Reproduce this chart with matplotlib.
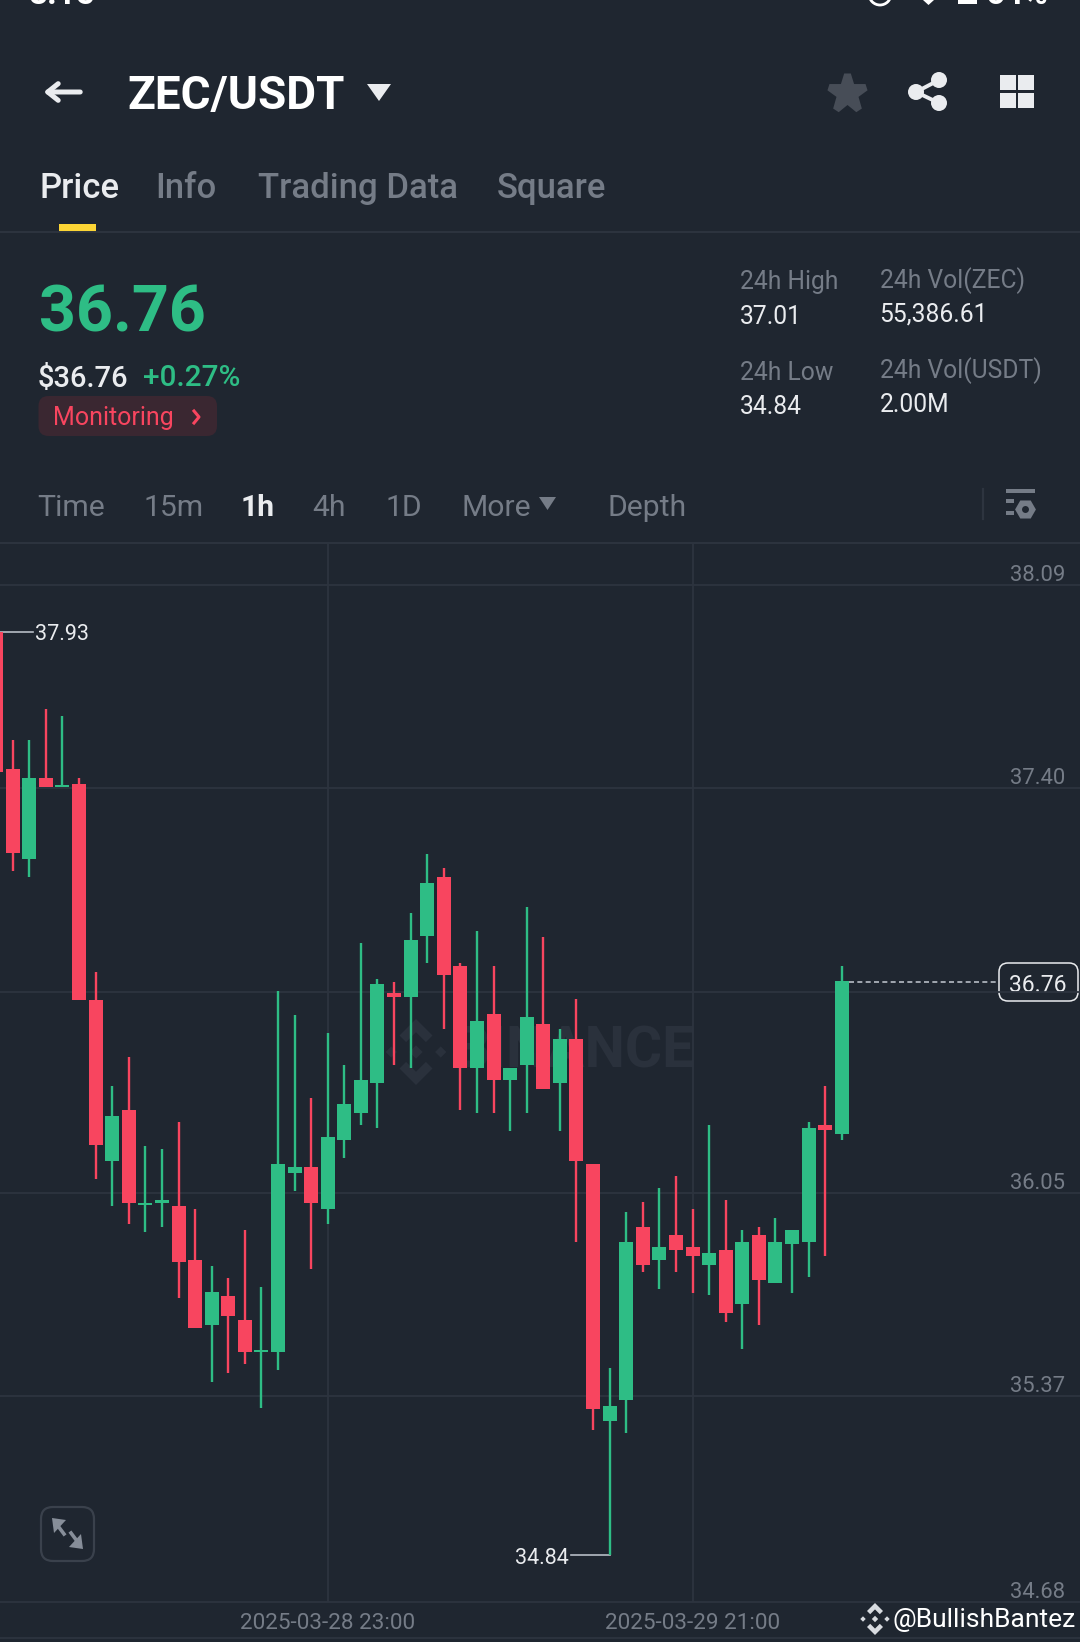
import matplotlib
matplotlib.use('Agg')
import matplotlib.pyplot as plt
from matplotlib.patches import FancyBboxPatch, Polygon, Rectangle, Circle

plt.rcParams['font.family'] = ['Roboto', 'DejaVu Sans']

BG = '#1f2630'
GRID = '#2d343f'
GREEN = '#2ebd85'
RED = '#f8455f'
GRAY = '#757c87'
LIGHT = '#eaecef'

# candle values. index -1 is the cut off candle on the left edge
candle_x = list(range(-1, 51))
highs = [37.934, 37.571, 37.571, 37.673, 37.652, 37.443, 36.791, 36.409, 36.509, 36.209,
         36.198, 36.290, 35.998, 35.807, 35.767, 35.928, 35.737, 36.730, 36.649, 36.370,
         36.589, 36.479, 36.889, 36.768, 36.760, 36.989, 37.189, 37.141, 36.821, 36.930,
         36.811, 36.470, 37.011, 36.910, 36.600, 36.701, 36.148, 35.465, 35.989, 36.020,
         36.068, 36.109, 35.999, 36.280, 36.029, 35.929, 35.938, 35.969, 35.929, 36.289,
         36.410, 36.811]
tops = [37.934, 37.473, 37.443, 37.443, 37.421, 37.422, 36.700, 36.309, 36.330, 36.018,
        36.027, 36.009, 35.828, 35.718, 35.707, 35.627, 35.525, 36.149, 36.139, 36.139,
        36.239, 36.349, 36.430, 36.751, 36.721, 36.900, 37.091, 37.110, 36.811, 36.629,
        36.650, 36.470, 36.641, 36.619, 36.569, 36.569, 36.148, 35.337, 35.888, 35.938,
        35.869, 35.909, 35.869, 35.849, 35.859, 35.888, 35.909, 35.888, 35.929, 36.270,
        36.280, 36.761]
bottoms = [37.463, 37.191, 37.172, 37.412, 37.414, 36.700, 36.211, 36.160, 36.019, 36.011,
           36.019, 35.820, 35.599, 35.609, 35.639, 35.518, 35.518, 35.518, 36.119, 36.019,
           35.998, 36.228, 36.319, 36.419, 36.710, 36.710, 36.912, 36.782, 36.470, 36.470,
           36.431, 36.431, 36.481, 36.400, 36.420, 36.159, 35.327, 35.288, 35.358, 35.810,
           35.828, 35.859, 35.839, 35.810, 35.649, 35.678, 35.760, 35.750, 35.880, 35.888,
           36.262, 36.249]
lows = [37.463, 37.131, 37.110, 37.412, 37.414, 36.700, 36.098, 36.009, 35.949, 35.920,
        35.939, 35.699, 35.599, 35.418, 35.448, 35.478, 35.329, 35.458, 36.058, 35.798,
        35.949, 36.169, 36.279, 36.269, 36.481, 36.470, 36.821, 36.602, 36.330, 36.319,
        36.319, 36.259, 36.319, 36.400, 36.259, 35.888, 35.257, 34.836, 35.248, 35.787,
        35.729, 35.787, 35.717, 35.708, 35.618, 35.529, 35.608, 35.750, 35.717, 35.769,
        35.839, 36.229]
colors = ['r', 'r', 'g', 'r', 'g', 'r', 'r', 'g', 'r', 'g',
          'g', 'r', 'r', 'g', 'r', 'r', 'g', 'g', 'g', 'r',
          'g', 'g', 'g', 'g', 'r', 'g', 'g', 'r', 'r', 'g',
          'r', 'g', 'g', 'r', 'g', 'r', 'r', 'g', 'g', 'r',
          'g', 'r', 'r', 'g', 'r', 'g', 'r', 'g', 'g', 'g',
          'r', 'g']

grid_prices = [38.09, 37.408, 36.726, 36.05, 35.37, 34.68]
price_labels = ['38.09', '37.40', '', '36.05', '35.37', '34.68']
time_ticks = [19, 41]
time_labels = ['2025-03-28 23:00', '2025-03-29 21:00']
last_price = 36.76

fig = plt.figure(figsize=(10.8, 16.42), dpi=100, facecolor=BG)

# pixel axes for the app chrome, sits under the chart
ui = fig.add_axes([0, 0, 1, 1], zorder=0)
ui.set_xlim(0, 1080)
ui.set_ylim(1642, 0)
ui.axis('off')

chart_top, chart_bottom = 543, 1602
ax = fig.add_axes([0, (1642 - chart_bottom) / 1642, 1, (chart_bottom - chart_top) / 1642], zorder=1)
ax.patch.set_alpha(0)
ax.set_xlim(-0.766, 64.37)
ax.set_ylim(34.68, 38.231)
ax.axis('off')


def label(x, y, s, size, color=LIGHT, weight='normal', ha='left', va='center', zorder=3):
    ui.text(x, y + 2.5, s, fontsize=size, color=color, fontweight=weight, ha=ha, va=va, zorder=zorder)


def logo(cx, cy, r, color):
    top = [(0, -1), (0.5, -0.5), (0.3, -0.3), (0, -0.6), (-0.3, -0.3), (-0.5, -0.5)]
    ui.add_patch(Polygon([(cx + a * r, cy + b * r) for a, b in top], color=color, lw=0))
    ui.add_patch(Polygon([(cx + a * r, cy - b * r) for a, b in top], color=color, lw=0))
    for dx, rr in [(0, 0.2), (-0.75, 0.17), (0.75, 0.17)]:
        pts = [(0, -rr), (rr, 0), (0, rr), (-rr, 0)]
        ui.add_patch(Polygon([(cx + dx * r + a * r, cy + b * r) for a, b in pts], color=color, lw=0))


# status bar, only the bottom of it is left in the screenshot
ui.text(28, 4, '8:15', fontsize=24, color='white', fontweight='bold', va='baseline')
ui.text(985, 4, '64%', fontsize=24, color='white', fontweight='bold', va='baseline')
ui.add_patch(Rectangle((958, 0), 19, 4, color='white', lw=0))
ui.add_patch(Circle((880, -6), 11, fc='none', ec='white', lw=2))
ui.add_patch(Polygon([(923, 0), (934, 0), (928.5, 5)], color='white', lw=0))

# header
ui.annotate('', xy=(41, 92), xytext=(83, 92),
            arrowprops=dict(arrowstyle='->,head_width=0.6,head_length=0.75', color=LIGHT, lw=3.6))
label(127, 93.5, 'ZEC/USDT', 33, 'white', 'bold')
ui.add_patch(Polygon([(367, 84), (391, 84), (379, 101)], color=LIGHT, lw=0))
ui.plot([847], [93], marker='*', ms=28, color='#474d57', mec='#474d57', mew=5)
ui.plot([939, 916, 939], [80, 92, 103], color=LIGHT, lw=2.8)
for sx, sy, sr in [(916, 92, 8), (939, 80, 8), (939, 103, 8)]:
    ui.add_patch(Circle((sx, sy), sr, color=LIGHT, lw=0))
for sx, sy in [(1000, 75), (1018, 75), (1000, 93), (1018, 93)]:
    ui.add_patch(Rectangle((sx, sy), 15.5, 15, color=LIGHT, lw=0))

# tabs
label(39, 186, 'Price', 25, LIGHT, 'medium')
label(155, 186, 'Info', 25, GRAY, 'medium')
label(258, 186, 'Trading Data', 25, GRAY, 'medium')
label(497, 186, 'Square', 25, GRAY, 'medium')
ui.add_patch(Rectangle((59, 224), 37, 8, color='#fcd535', lw=0))
ui.plot([0, 1080], [232, 232], color=GRID, lw=1.4)

# price block
label(39, 311, '36.76', 46.5, GREEN, 'bold')
label(38, 376, '$36.76', 21, LIGHT, 'medium')
label(143, 376, '+0.27%', 21.4, GREEN, 'medium')
ui.add_patch(FancyBboxPatch((38.5, 396), 178.5, 40, boxstyle='round,pad=0,rounding_size=10', lw=0,
                            fc='#3a2731', ec='none'))
label(53, 415, 'Monitoring', 18, RED)
ui.plot([194, 199, 194], [411, 417, 423], color=RED, lw=2.2)

label(740, 280, '24h High', 17.7, GRAY)
label(740, 315, '37.01', 17.7)
label(740, 370, '24h Low', 17.7, GRAY)
label(740, 405, '34.84', 17.7)
label(880, 278, '24h Vol(ZEC)', 17.7, GRAY)
label(879, 312, '55,386.61', 17.7)
label(880, 368, '24h Vol(USDT)', 17.7, GRAY)
label(880, 403, '2.00M', 17.7)

# interval row
for tx, s, c, w in [(37, 'Time', GRAY, 'normal'), (144, '15m', GRAY, 'normal'), (241, '1h', LIGHT, 'bold'),
                    (312, '4h', GRAY, 'normal'), (385, '1D', GRAY, 'normal'), (461, 'More', GRAY, 'normal'),
                    (607, 'Depth', GRAY, 'normal')]:
    label(tx, 506, s, 21.7, c, w)
ui.add_patch(Polygon([(539, 497), (556, 497), (547.5, 510)], color=GRAY, lw=0))
ui.plot([983, 983], [489, 519], color=GRID, lw=1.6)
ui.add_patch(Rectangle((1006, 489), 29, 4, color=GRAY, lw=0))
ui.add_patch(Rectangle((1006, 499), 8, 4, color=GRAY, lw=0))
ui.add_patch(Rectangle((1006, 511), 8, 4, color=GRAY, lw=0))
ui.plot([1025], [509], marker='H', ms=15, mfc=GRAY, mew=0)
ui.plot([1025], [509], marker='o', ms=5, mfc=BG, mew=0)
ui.plot([0, 1080], [543, 543], color=GRID, lw=1.4)

# faint watermark behind the candles
logo(416, 1052, 33, '#2a313c')
label(453, 1050, 'BINANCE', 41, '#2a313c', 'bold')

# expand button
ui.add_patch(FancyBboxPatch((41, 1507), 53, 54, boxstyle='round,pad=0,rounding_size=12',
                            fc='none', ec='#3a414c', lw=1.6))
ui.add_patch(Polygon([(52, 1518), (66, 1520), (54, 1533)], color='#878e99', lw=0))
ui.add_patch(Polygon([(83, 1549), (69, 1547), (81, 1534)], color='#878e99', lw=0))
ui.plot([58, 64], [1526, 1534], color='#878e99', lw=2.6)
ui.plot([77, 71], [1541, 1533], color='#878e99', lw=2.6)

# grid
for p in grid_prices:
    ax.axhline(p, color=GRID, lw=1.3, zorder=1, clip_on=False)
for t in time_ticks:
    ax.axvline(t, color=GRID, lw=1.3, zorder=1)
for p, s in zip(grid_prices, price_labels):
    if s:
        ax.annotate(s, xy=(1, p), xycoords=('axes fraction', 'data'), xytext=(-15, -1), textcoords='offset pixels',
                    ha='right', va='bottom', fontsize=15.8, color=GRAY)

# candles
bar_colors = [GREEN if c == 'g' else RED for c in colors]
ax.vlines(candle_x, lows, highs, colors=bar_colors, lw=1.7, zorder=3)
ax.bar(candle_x, [t - b for t, b in zip(tops, bottoms)], bottom=bottoms, width=0.845,
       color=bar_colors, lw=0, zorder=4)

# high and low callouts
ax.plot([-0.766, 1.22], [37.934, 37.934], color='#b7bdc6', lw=1.2, zorder=2)
ax.annotate('37.93', xy=(1.36, 37.934), xytext=(0, -3), textcoords='offset pixels',
            ha='left', va='center', fontsize=15.5, color=LIGHT)
ax.plot([33.7, 36], [34.836, 34.836], color='#b7bdc6', lw=1.2, zorder=2)
ax.annotate('34.84', xy=(33.55, 34.836), xytext=(0, -3), textcoords='offset pixels',
            ha='right', va='center', fontsize=15.5, color=LIGHT)

# last price
ax.plot([50.45, 59.4], [last_price, last_price], color='#b7bdc6', lw=1.2, ls=(0, (3, 2)), zorder=2)
ui.add_patch(FancyBboxPatch((999, 963), 79, 38, boxstyle='round,pad=0,rounding_size=9', fc=BG, ec=LIGHT, lw=1.1, zorder=5))
label(1038, 982.5, f'{last_price:.2f}', 16.5, LIGHT, ha='center', zorder=6)

# time axis
ui.plot([0, 1080], [1638, 1638], color=GRID, lw=1.3)
for t, s in zip(time_ticks, time_labels):
    ax.annotate(s, xy=(t, 34.68), xytext=(0, -21), textcoords='offset pixels', ha='center', va='center',
                fontsize=16.2, color=GRAY, annotation_clip=False)

# repost watermark
logo(875, 1619, 16, '#d8dbe0')
label(893, 1617, '@BullishBantez', 19, 'white')

fig.savefig('out.png', dpi=100, facecolor=BG)
